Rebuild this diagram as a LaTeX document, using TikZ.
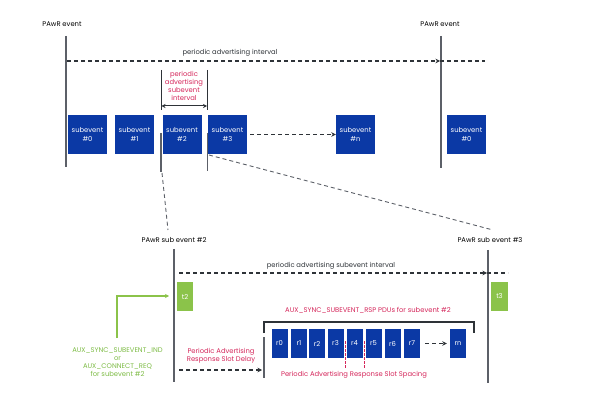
\documentclass[tikz,border=0pt]{standalone}
\usepackage{fontspec}
\setmainfont{Poppins}
\usetikzlibrary{arrows.meta}
\definecolor{sbblue}{HTML}{0B39A5}
\definecolor{sbgreen}{HTML}{8BC34A}
\definecolor{sbgtext}{HTML}{7DBB45}
\definecolor{sbred}{HTML}{D4265A}
\definecolor{sbgray}{HTML}{5C6068}
\definecolor{sbdark}{HTML}{2E3338}
\begin{document}
\begin{tikzpicture}[x=1pt,y=-1pt,
  font=\fontsize{6.8}{8.2}\selectfont,
  blk/.style={fill=sbblue, draw=none, minimum width=39pt, minimum height=39pt, text=white, align=center, inner sep=0pt},
  rblk/.style={fill=sbblue, draw=none, minimum width=16pt, minimum height=29pt, text=white, inner sep=0pt},
  gblk/.style={fill=sbgreen, draw=none, minimum width=16.5pt, minimum height=29pt, text=white, inner sep=0pt},
  tline/.style={draw=sbgray, line width=1.6pt},
  dline/.style={draw=sbdark, line width=1.1pt, dash pattern=on 4pt off 3pt},
  zline/.style={draw=sbgray, line width=0.9pt, dash pattern=on 4pt off 3pt},
  tip/.style={-{Stealth[length=4.5pt,width=4.5pt]}},
  lbl/.style={text=black, inner sep=0pt},
  dlbl/.style={text=sbdark, inner sep=0pt},
  rlbl/.style={text=sbred, inner sep=0pt, align=center},
  glbl/.style={text=sbgtext, inner sep=0pt, align=center}
]
\useasboundingbox (0,0) rectangle (600,414);

% ---------- top section ----------
\node[lbl] (ev1) at (62,24) {PAwR event};
\node[lbl] (ev2) at (440,24) {PAwR event};
\coordinate (ev1t) at (66,36);  \coordinate (ev1b) at (66,167);
\coordinate (ev2t) at (441,36); \coordinate (ev2b) at (441,168);
\draw[tline] (ev1t) -- (ev1b);
\draw[tline] (ev2t) -- (ev2b);

\node[dlbl] (pai) at (230,53) {periodic advertising interval};
\coordinate (pa1) at (67,61); \coordinate (pa2) at (440,61); \coordinate (pa3) at (485,61);
\draw[dline,tip] (pa1) -- (pa2);
\draw[dline] (pa2) -- (pa3);

\node[blk] (s0) at (87.5,134.5) {subevent\\\#0};
\node[blk] (s1) at (134.5,134.5) {subevent\\\#1};
\node[blk] (s2) at (182,134.5) {subevent\\\#2};
\node[blk] (s3) at (227.5,134.5) {subevent\\\#3};
\node[blk] (sn) at (355.5,134.5) {subevent\\\#n};
\node[blk] (s0b) at (466.5,134.5) {subevent\\\#0};

% subevent interval marker
\coordinate (m1t) at (161,70); \coordinate (m1b) at (161,110);
\coordinate (m2t) at (207.5,70); \coordinate (m2b) at (207.5,110);
\draw[draw=sbdark, line width=1pt] (m1t) -- (m1b);
\draw[draw=sbdark, line width=1pt] (m2t) -- (m2b);
\coordinate (ma1) at (161.5,106); \coordinate (ma2) at (207,106);
\draw[draw=sbdark, line width=1pt, {Stealth[length=4pt,width=4pt]}-{Stealth[length=4pt,width=4pt]}] (ma1) -- (ma2);
\node[rlbl] (psi) at (184,86) {periodic\\advertising\\subevent\\interval};

% marker lines under subevents
\coordinate (u2t) at (161,133); \coordinate (u2b) at (161,172);
\coordinate (u3t) at (207.5,133); \coordinate (u3b) at (207.5,171);
\draw[tline, line width=1.3pt] (u2t) -- (u2b);
\draw[tline, line width=1.3pt] (u3t) -- (u3b);

% dashed to #n
\coordinate (d3) at (250,134.5);
\draw[dline,tip] (d3) -- (sn.west);

% zoom lines
\coordinate (z2a) at (162,173); \coordinate (z2b) at (168,230);
\coordinate (z3a) at (209,155); \coordinate (z3b) at (493,230);
\draw[zline] (z2a) -- (z2b);
\draw[zline] (z3a) -- (z3b);

% ---------- bottom section ----------
\node[lbl] (se2) at (174,240) {PAwR sub event \#2};
\node[lbl] (se3) at (490,240) {PAwR sub event \#3};
\coordinate (b2t) at (174,249); \coordinate (b2b) at (174,382);
\coordinate (b3t) at (488,250); \coordinate (b3b) at (488,383);
\draw[tline] (b2t) -- (b2b);
\draw[tline] (b3t) -- (b3b);

\node[dlbl] (psi2) at (331,266) {periodic advertising subevent interval};
\coordinate (pb1) at (179,273); \coordinate (pb2) at (487,273); \coordinate (pb3) at (508,273);
\draw[dline,tip] (pb1) -- (pb2);
\draw[dline] (pb2) -- (pb3);

\node[gblk] (t2) at (185,296.5) {t2};
\node[gblk] (t3) at (499.5,296.5) {t3};

% green indication
\node[glbl] (ind) at (117.5,362) {AUX\_SYNC\_SUBEVENT\_IND\\or\\AUX\_CONNECT\_REQ\\for subevent \#2};
\coordinate (g1) at (117,338); \coordinate (g2) at (117,296); \coordinate (g3) at (169,296);
\draw[draw=sbgreen, line width=1.2pt, -{Stealth[length=4pt,width=4pt]}] (g1) -- (g2) -- (g3);

% response slot delay
\node[rlbl] (rsd) at (221,355.5) {Periodic Advertising\\Response Slot Delay};
\coordinate (rd1) at (179,370); \coordinate (rd2) at (262,370);
\draw[dline,tip] (rd1) -- (rd2);
\coordinate (rdt) at (264,337); \coordinate (rdb) at (264,378);
\draw[draw=sbgray, line width=1.3pt] (rdt) -- (rdb);

% bracket
\node[rlbl] (pdus) at (368,310) {AUX\_SYNC\_SUBEVENT\_RSP PDUs for subevent \#2};
\coordinate (br1) at (264,333); \coordinate (br2) at (264,322); \coordinate (br3) at (474,322); \coordinate (br4) at (474,333);
\draw[draw=sbdark, line width=1.2pt] (br1) -- (br2) -- (br3) -- (br4);

% response slots
\node[rblk] (r0) at (279.5,343.5) {r0};
\node[rblk] (r1) at (299,343.5) {r1};
\node[rblk] (r2) at (317,343.5) {r2};
\node[rblk] (r3) at (335.5,343.5) {r3};
\node[rblk] (r4) at (354.5,343.5) {r4};
\node[rblk] (r5) at (373.5,343.5) {r5};
\node[rblk] (r6) at (392.5,343.5) {r6};
\node[rblk] (r7) at (412,343.5) {r7};
\node[rblk] (rn) at (458,343.5) {rn};
\draw[dline,tip] ([xshift=5pt]r7.east) -- ([xshift=-3pt]rn.west);

% slot spacing
\coordinate (sp1t) at (345.5,341); \coordinate (sp1b) at (345.5,368);
\coordinate (sp2t) at (364.5,341); \coordinate (sp2b) at (364.5,368);
\draw[draw=sbred, line width=1pt, dash pattern=on 2.5pt off 1.5pt] (sp1t) -- (sp1b);
\draw[draw=sbred, line width=1pt, dash pattern=on 2.5pt off 1.5pt] (sp2t) -- (sp2b);
\node[rlbl] (rss) at (354,375) {Periodic Advertising Response Slot Spacing};
\end{tikzpicture}
\end{document}
